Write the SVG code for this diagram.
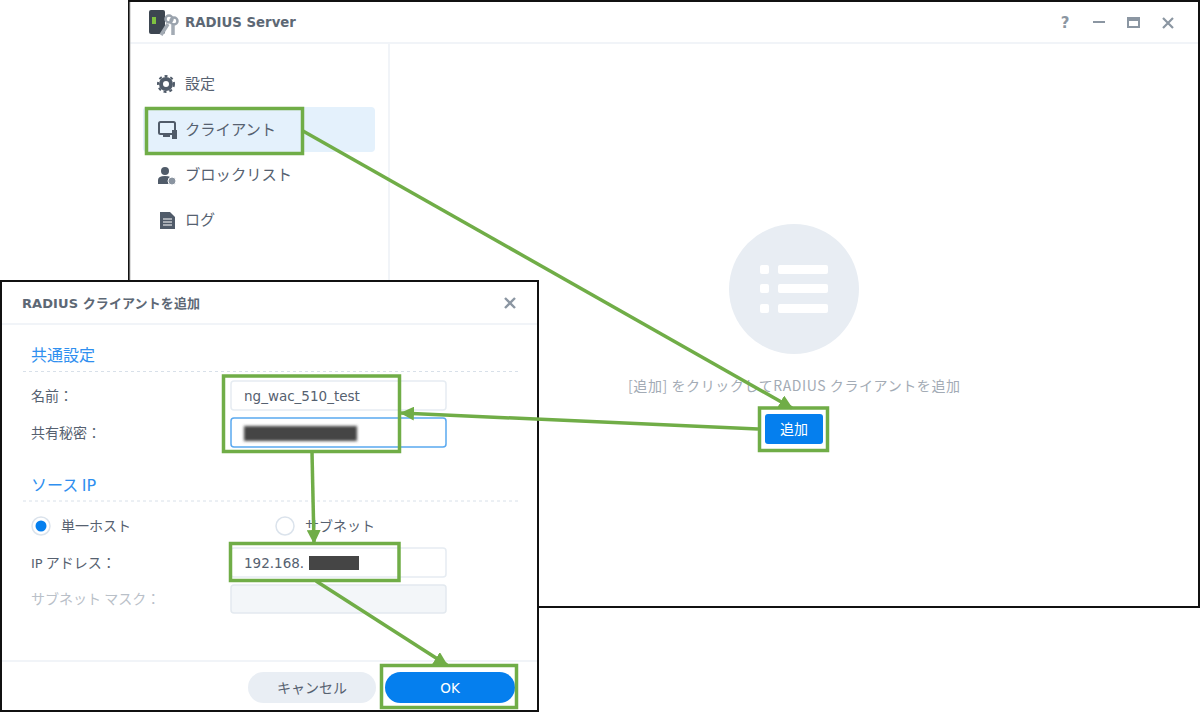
<svg xmlns="http://www.w3.org/2000/svg" width="1200" height="712" viewBox="0 0 1200 712">
<style>
text{font-family:"Noto Sans CJK JP","Noto Sans",sans-serif;fill:#566170;font-size:15px}
.lat{font-family:"DejaVu Sans","Noto Sans CJK JP",sans-serif}
.win{fill:#fff;stroke:#111;stroke-width:2}
.hl{fill:none;stroke:#70ad47;stroke-width:3.5}
.con{stroke:#70ad47;stroke-width:3.5;fill:none;marker-end:url(#ah)}
.sec{fill:#2f8fef;font-size:16px}
.ico{fill:#505b69}
.fld{fill:#fff;stroke:#e6ecf2;stroke-width:1.5}
.sep{stroke:#edf1f6;stroke-width:1.5;fill:none}
.dash{stroke:#d8e0e9;stroke-width:1;stroke-dasharray:3 3;fill:none}
</style>
<defs>
<marker id="ah" markerUnits="userSpaceOnUse" markerWidth="14" markerHeight="14" refX="13" refY="7" orient="auto"><path d="M0 0L14 7L0 14Z" fill="#70ad47"/></marker>
<filter id="bl" x="-10%" y="-30%" width="120%" height="160%"><feGaussianBlur stdDeviation="1.6"/></filter>
<filter id="bs" x="-10%" y="-30%" width="120%" height="160%"><feGaussianBlur stdDeviation="0.7"/></filter>
</defs>
<rect width="1200" height="712" fill="#fff"/>
<g id="main-window">
<rect class="win" x="129" y="1" width="1070" height="606"/>
<path class="sep" d="M130 43H1198M389 44V282"/>
<path d="M130 2V606" stroke="#bbb" stroke-width="1"/>
<rect x="149" y="10" width="16" height="24" rx="2" fill="#3d4651"/>
<rect x="152" y="17" width="4" height="7" fill="#7fc241"/>
<circle cx="169" cy="19" r="3.500" fill="none" stroke="#9aa3ad" stroke-width="2.500"/>
<circle cx="174" cy="21" r="3.500" fill="none" stroke="#9aa3ad" stroke-width="2.500"/>
<path d="M161 35L168 24M173 35V25" stroke="#a3abb4" stroke-width="3.500"/>
<text class="lat" x="185" y="27" style="font-size:13.300px;font-weight:700;fill:#5d6875">RADIUS Server</text>
<text class="lat" x="1065" y="28" text-anchor="middle" style="font-size:15px;font-weight:700;fill:#8b96a2">?</text>
<rect x="1093" y="21" width="12" height="2" fill="#8b96a2"/>
<path d="M1128 18H1139V27H1128Z" fill="none" stroke="#8b96a2" stroke-width="2"/><rect x="1127" y="17" width="13" height="4" fill="#8b96a2"/>
<path d="M1163 18L1173 28M1173 18L1163 28" stroke="#8b96a2" stroke-width="2.200"/>
</g>
<g id="sidebar">
<rect x="143" y="107" width="232" height="45" rx="4" fill="#e4f1fc"/>
<g id="nav-settings"><circle cx="166" cy="84" r="5" fill="none" stroke="#505b69" stroke-width="4"/><circle cx="166" cy="84" r="8" fill="none" stroke="#505b69" stroke-width="2" stroke-dasharray="3 3"/><text x="185" y="89">設定</text></g>
<g id="nav-client"><rect x="159" y="122" width="16" height="12" rx="1.500" fill="none" stroke="#505b69" stroke-width="2"/><path d="M163 136H170" stroke="#505b69" stroke-width="2"/><rect x="172" y="130" width="5" height="9" fill="#505b69"/><text x="185" y="135" style="font-size:15.300px">クライアント</text></g>
<g id="nav-block"><circle cx="165" cy="171" r="4" class="ico"/><path class="ico" d="M158 184V180Q158 176 165 176Q172 176 172 180V184Z"/><circle cx="172" cy="181" r="4" fill="#8a94a0" stroke="#fff"/><text x="185" y="180" style="font-size:15.300px">ブロックリスト</text></g>
<g id="nav-log"><path class="ico" d="M160 212H170L175 217V229H160Z"/><path d="M163 219H172M163 222H172M163 225H172" stroke="#fff"/><text x="185" y="225">ログ</text></g>
</g>
<g id="empty-state">
<circle cx="794" cy="289" r="65" fill="#e8edf3"/>
<g fill="#fff"><rect x="760" y="265" width="9" height="9" rx="2"/><rect x="778" y="265" width="50" height="9" rx="2"/><rect x="760" y="284" width="9" height="9" rx="2"/><rect x="778" y="284" width="50" height="9" rx="2"/><rect x="760" y="304" width="9" height="9" rx="2"/><rect x="778" y="304" width="50" height="9" rx="2"/></g>
<text x="794" y="391" text-anchor="middle" textLength="332" style="font-size:14px;fill:#a3abb5">[追加] をクリックしてRADIUS クライアントを追加</text>
</g>
<g id="add-button"><rect x="765" y="414" width="58" height="30" rx="3" fill="#057fee"/><text x="794" y="434" text-anchor="middle" style="font-size:14px;fill:#fff">追加</text></g>
<g id="dialog">
<rect class="win" x="1" y="281" width="537" height="430"/>
<path class="sep" d="M2 324H537M2 661H537"/>
<text x="22" y="308" class="lat" style="font-size:13px;font-weight:700;fill:#5d6875" textLength="178">RADIUS クライアントを追加</text>
<path d="M505 298L515 308M515 298L505 308" stroke="#8b96a2" stroke-width="2.400"/>
<text x="31" y="361" class="sec">共通設定</text><path class="dash" d="M23 371.500H519"/>
<text x="31" y="401" style="font-size:14px">名前：</text>
<text x="31" y="438" style="font-size:14px">共有秘密：</text>
<rect class="fld" x="231" y="381" width="215" height="29" rx="3"/>
<text x="244" y="401" class="lat" style="font-size:13.500px">ng_wac_510_test</text>
<rect x="231" y="418" width="215" height="29" rx="3" fill="#fff" stroke="#5aa9f0" stroke-width="1.500"/>
<rect x="244" y="426" width="113" height="15" fill="#444" filter="url(#bl)"/>
<text x="31" y="491" class="sec">ソース <tspan class="lat">IP</tspan></text><path class="dash" d="M23 501H519"/>
<circle cx="41" cy="526" r="9" fill="#fff" stroke="#dbe3ec" stroke-width="1.500"/><circle cx="41" cy="526" r="5.500" fill="#057fee"/>
<text x="61" y="531" style="font-size:14px">単一ホスト</text>
<circle cx="285" cy="526" r="9" fill="#fff" stroke="#dbe3ec" stroke-width="1.500"/>
<text x="305" y="531" style="font-size:14px">サブネット</text>
<text x="31" y="568" style="font-size:14px"><tspan class="lat" style="font-size:13px">IP</tspan> アドレス：</text>
<rect class="fld" x="231" y="548" width="215" height="29" rx="3"/>
<text x="244" y="568" class="lat" style="font-size:13.500px">192.168.</text>
<rect x="309" y="556" width="50" height="14" fill="#444" filter="url(#bs)"/>
<text x="31" y="604" style="font-size:14px;fill:#b9c0c8">サブネット マスク：</text>
<rect x="231" y="585" width="215" height="28" rx="3" fill="#f3f6f9" stroke="#e3e9ef" stroke-width="1.500"/>
<g id="cancel-button"><rect x="248" y="672" width="128" height="31" rx="15.500" fill="#e9eef4"/><text x="312" y="693" text-anchor="middle" style="font-size:14px">キャンセル</text></g>
<g id="ok-button"><rect x="385" y="672" width="130" height="31" rx="15.500" fill="#057fee"/><text x="450" y="693" text-anchor="middle" class="lat" style="font-size:13.500px;fill:#fff">OK</text></g>
</g>
<g id="highlights">
<rect class="hl" x="146.500" y="108.500" width="156" height="45"/>
<rect class="hl" x="223.500" y="376" width="176" height="75.500"/>
<rect class="hl" x="230.500" y="543.500" width="168.500" height="37"/>
<rect class="hl" x="381.500" y="665.500" width="135" height="42"/>
<rect class="hl" x="759.500" y="408" width="68" height="42.500"/>
</g>
<g id="connectors">
<line class="con" x1="303" y1="131" x2="792" y2="408"/>
<line class="con" x1="758" y1="429" x2="401" y2="413"/>
<line class="con" x1="312" y1="452" x2="314" y2="543"/>
<line class="con" x1="316" y1="581" x2="447" y2="665"/>
</g>
</svg>
